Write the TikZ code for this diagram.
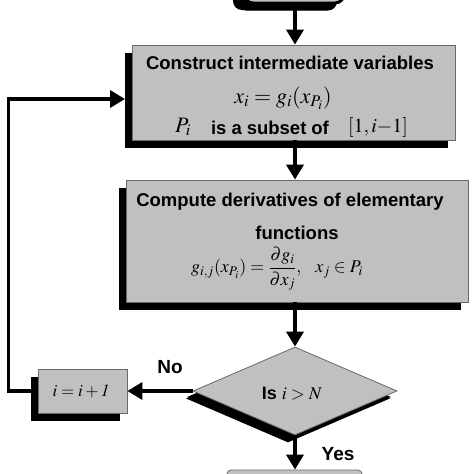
\documentclass[tikz,border=0pt]{standalone}
\usepackage{mathptmx}
\usepackage[no-math]{fontspec}
\setmainfont{Liberation Sans}
\usetikzlibrary{arrows.meta,shapes.geometric,shadows}
\definecolor{boxgray}{RGB}{192,192,192}
\definecolor{edgegray}{RGB}{105,105,105}
\tikzset{
  conn/.style={line width=3.6pt,-{Triangle[length=15pt,width=17pt]}},
  boxstyle/.style={fill=boxgray,draw=edgegray,line width=0.8pt,inner sep=0pt,
    drop shadow={shadow xshift=-7pt,shadow yshift=-7.5pt,fill=black,opacity=1}},
  titletext/.style={font=\fontsize{18.5}{22}\selectfont\bfseries,inner sep=0pt},
  smalltext/.style={font=\fontsize{18}{20}\selectfont\bfseries,inner sep=0pt},
  mathtext/.style={inner sep=0pt},
}
\begin{document}
\begin{tikzpicture}[x=1pt,y=-1pt]
\useasboundingbox (0,0) rectangle (474,474);
% top terminal
\node[boxstyle,draw=black,line width=3pt,rounded corners=9pt,
  drop shadow={shadow xshift=-11pt,shadow yshift=-7pt,fill=black,opacity=1},
  minimum width=100pt,minimum height=40pt] (top) at (294,-17) {};
% box 1
\node[boxstyle,minimum width=323pt,minimum height=95pt] (b1) at (293.5,92.5) {};
\node[titletext] (b1t) at (290,63) {Construct intermediate variables};
\node[mathtext,font=\fontsize{22}{24}\selectfont] (b1m) at (283,98) {$x_i = g_i(x_{P_i})$};
\node[mathtext,font=\fontsize{22}{24}\selectfont] (b1p) at (183,127) {$P_i$};
\node[titletext] (b1s) at (270,128) {is\hspace{5pt}a\hspace{5pt}subset\hspace{5pt}of};
\node[mathtext,font=\fontsize{20}{22}\selectfont] (b1r) at (378,127) {$[1{,}\,i{-}1]$};
% box 2
\node[boxstyle,minimum width=342pt,minimum height=122pt] (b2) at (297,241) {};
\node[titletext] (b2t) at (290,202) {Compute derivatives of elementary};
\node[titletext] (b2f) at (297,233) {functions};
\node[mathtext,font=\fontsize{18}{20}\selectfont] (b2m) at (277,269)
  {$g_{i,j}(x_{P_i}) = \displaystyle\frac{\partial g_i}{\partial x_j},\;\;\; x_j \in P_i$};
% decision
\node[diamond,aspect=2.32,boxstyle,minimum width=204pt,minimum height=88pt,
  drop shadow={shadow xshift=-6pt,shadow yshift=-6pt,fill=black,opacity=1}] (d) at (295,391) {};
\node[smalltext] (dt) at (292,394) {Is \mdseries$i > N$};
% increment
\node[boxstyle,minimum width=89pt,minimum height=44pt] (inc) at (82.5,391) {};
\node[mathtext,font=\fontsize{17}{19}\selectfont] (inct) at (81,391) {$i = i + \mathit{1}$};
% bottom box
\node[boxstyle,rounded corners=4pt,minimum width=135pt,minimum height=40pt] (bot) at (294.5,490) {};
% labels
\node[smalltext,font=\fontsize{19}{21}\selectfont\bfseries] (no) at (170,367) {No};
\node[smalltext,font=\fontsize{19}{21}\selectfont\bfseries] (yes) at (338,454) {Yes};
% connectors
\coordinate (b1in) at (125,99);
\draw[conn] (top.south -| d.north) -- (b1.north -| d.north);
\draw[conn] (b1.south -| d.north) -- (b2.north -| d.north);
\draw[conn] (b2.south -| d.north) -- (d.north);
\draw[conn] (d.west) -- (inc.east);
\draw[conn] (d.south) -- (bot.north -| d.south);
\draw[conn] (inc.west) -- ++(-29,0) |- (b1in);
\end{tikzpicture}
\end{document}
